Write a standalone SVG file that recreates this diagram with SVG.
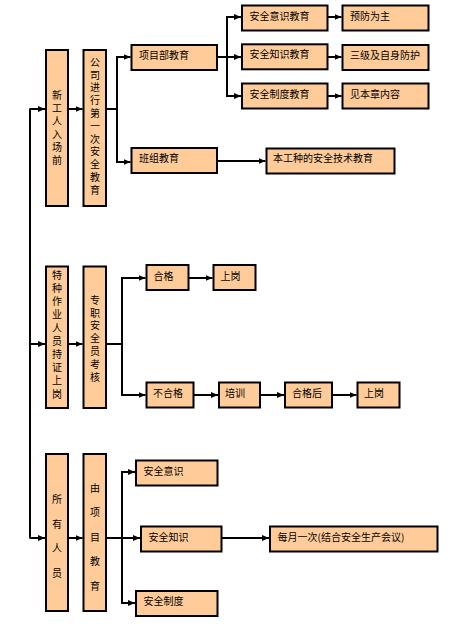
<svg xmlns="http://www.w3.org/2000/svg" width="467" height="624" viewBox="0 0 467 624">
<style>
.b{fill:#FFCC99;stroke:#000;stroke-width:2}
.t{font-family:"Noto Sans CJK SC","Noto Sans",sans-serif;font-size:10px;fill:#000}
.c{fill:none;stroke:#000;stroke-width:2}
.a{marker-end:url(#ar)}
</style>
<defs>
<marker id="ar" markerUnits="userSpaceOnUse" markerWidth="7" markerHeight="6" refX="7" refY="3" orient="auto">
<path d="M0,0 L7,3 L0,6 Z" fill="#000"/>
</marker>
</defs>
<rect width="467" height="624" fill="#fff"/>
<g id="connectors">
<path class="c" d="M30,108.5 V538.5"/>
<path class="c a" d="M30,109 H45"/>
<path class="c a" d="M30,344 H45"/>
<path class="c a" d="M30,538 H45"/>
<path class="c a" d="M69,109 H82.5"/>
<path class="c a" d="M69,344 H82.5"/>
<path class="c a" d="M69,538 H82.5"/>
<path class="c" d="M107,109 H117"/>
<path class="c" d="M117,56 V163"/>
<path class="c a" d="M116,57 H130.5"/>
<path class="c a" d="M116,162 H130.5"/>
<path class="c" d="M218,57 H227"/>
<path class="c" d="M227,16 V97"/>
<path class="c a" d="M226,17 H241"/>
<path class="c a" d="M227,57 H241"/>
<path class="c a" d="M226,96 H241"/>
<path class="c a" d="M328,17 H341.5"/>
<path class="c a" d="M328,57 H341.5"/>
<path class="c a" d="M328,96 H341.5"/>
<path class="c a" d="M218,161 H265.5"/>
<path class="c" d="M107,344 H122"/>
<path class="c" d="M122,277 V396"/>
<path class="c a" d="M121,278 H145.5"/>
<path class="c a" d="M121,395 H145.5"/>
<path class="c a" d="M189,278 H212.5"/>
<path class="c a" d="M194,395 H218"/>
<path class="c a" d="M261,395 H284"/>
<path class="c a" d="M333,395 H356.5"/>
<path class="c" d="M107,538 H122"/>
<path class="c" d="M122,471 V604"/>
<path class="c a" d="M121,472 H135"/>
<path class="c a" d="M122,538 H140"/>
<path class="c a" d="M121,603 H135"/>
<path class="c a" d="M222,538 H269"/>
</g>
<g id="n1"><rect class="b" x="46" y="50" width="22" height="156"/>
<text class="t" text-anchor="middle" x="57 57 57 57 57 57" y="99 112 125 138 151 164">新工人入场前</text></g>
<g id="n2"><rect class="b" x="83.5" y="50" width="22.5" height="156"/>
<text class="t" text-anchor="middle" x="95 95 95 95 95 95 95 95 95 95 95" y="65.7 78.5 91.3 104.1 116.9 129.7 142.5 155.3 168.1 180.9 193.7">公司进行第一次安全教育</text></g>
<g id="n3"><rect class="b" x="131.5" y="45" width="85.5" height="25"/>
<text class="t" x="139" y="58.5">项目部教育</text></g>
<g id="n4"><rect class="b" x="131.5" y="148" width="85.5" height="25"/>
<text class="t" x="139" y="161.5">班组教育</text></g>
<g id="n5"><rect class="b" x="242" y="5.5" width="85.5" height="25"/>
<text class="t" x="249.5" y="19.5">安全意识教育</text></g>
<g id="n6"><rect class="b" x="242" y="44.3" width="85.5" height="25"/>
<text class="t" x="249.5" y="58.3">安全知识教育</text></g>
<g id="n7"><rect class="b" x="242" y="83.5" width="85.5" height="25"/>
<text class="t" x="249.5" y="97.5">安全制度教育</text></g>
<g id="n8"><rect class="b" x="342.5" y="5.5" width="86" height="25"/>
<text class="t" x="350" y="19.5">预防为主</text></g>
<g id="n9"><rect class="b" x="342.5" y="45" width="86" height="25"/>
<text class="t" x="350" y="59">三级及自身防护</text></g>
<g id="n10"><rect class="b" x="342.5" y="83.5" width="86" height="25"/>
<text class="t" x="350" y="97.5">见本章内容</text></g>
<g id="n11"><rect class="b" x="266.5" y="148.5" width="128" height="25"/>
<text class="t" x="273" y="162">本工种的安全技术教育</text></g>
<g id="n12"><rect class="b" x="46" y="266.5" width="22" height="141.5"/>
<text class="t" text-anchor="middle" x="57 57 57 57 57 57 57 57 57 57" y="278.8 292 305.2 318.4 331.6 344.8 358 371.2 384.4 397.6">特种作业人员持证上岗</text></g>
<g id="n13"><rect class="b" x="83.5" y="266.5" width="22.5" height="141.5"/>
<text class="t" text-anchor="middle" x="95 95 95 95 95 95 95" y="303.8 316.6 329.4 342.2 355 367.8 380.6">专职安全员考核</text></g>
<g id="n14"><rect class="b" x="146.5" y="265" width="42" height="25"/>
<text class="t" x="153.5" y="279.5">合格</text></g>
<g id="n15"><rect class="b" x="213.5" y="265" width="42" height="25"/>
<text class="t" x="220.5" y="279.5">上岗</text></g>
<g id="n16"><rect class="b" x="146.5" y="382.5" width="47" height="25"/>
<text class="t" x="153" y="396.5">不合格</text></g>
<g id="n17"><rect class="b" x="219" y="382.5" width="41" height="25"/>
<text class="t" x="225" y="396.5">培训</text></g>
<g id="n18"><rect class="b" x="285" y="382.5" width="47" height="25"/>
<text class="t" x="292" y="396.5">合格后</text></g>
<g id="n19"><rect class="b" x="357.5" y="382.5" width="42" height="25"/>
<text class="t" x="364" y="396.5">上岗</text></g>
<g id="n20"><rect class="b" x="46" y="454" width="22" height="157"/>
<text class="t" text-anchor="middle" x="57 57 57 57" y="502.8 527.5 552.2 576.9">所有人员</text></g>
<g id="n21"><rect class="b" x="83.5" y="454" width="22.5" height="157"/>
<text class="t" text-anchor="middle" x="95 95 95 95 95" y="491.5 516.1 540.7 565.3 589.9">由项目教育</text></g>
<g id="n22"><rect class="b" x="136" y="460.5" width="81.5" height="25"/>
<text class="t" x="143.5" y="474.5">安全意识</text></g>
<g id="n23"><rect class="b" x="141" y="526.5" width="80.5" height="25"/>
<text class="t" x="148.5" y="540.5">安全知识</text></g>
<g id="n24"><rect class="b" x="136" y="591" width="81.5" height="25"/>
<text class="t" x="143.5" y="605">安全制度</text></g>
<g id="n25"><rect class="b" x="270" y="526.5" width="167.5" height="25"/>
<text class="t" x="277.5" y="540.5">每月一次(结合安全生产会议)</text></g>
</svg>
